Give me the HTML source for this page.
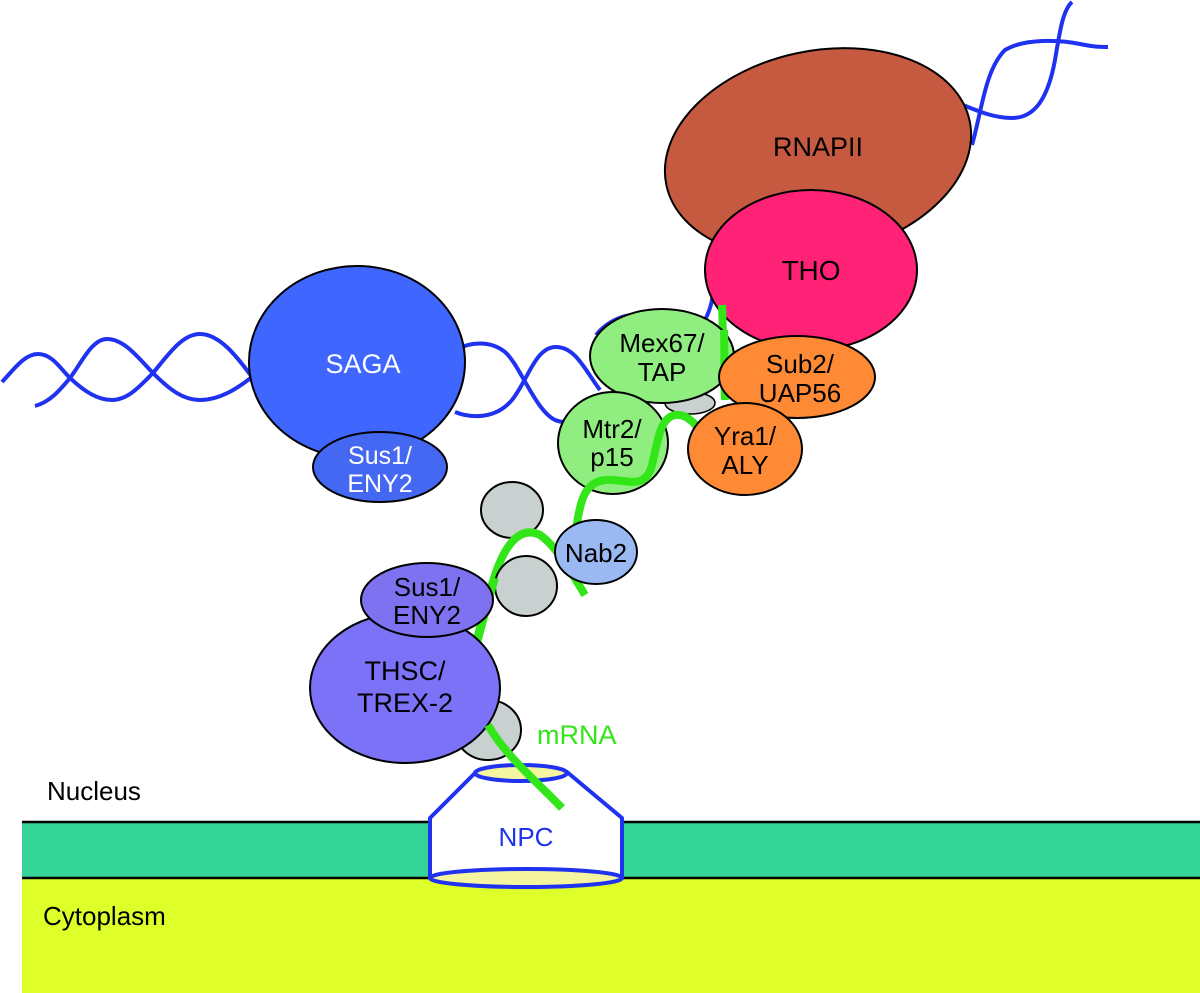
<!DOCTYPE html>
<html><head><meta charset="utf-8"><style>
html,body{margin:0;padding:0;background:#fff}
svg{display:block}
text{font-family:"Liberation Sans",sans-serif}
</style></head><body>
<svg width="1200" height="993" viewBox="0 0 1200 993" xmlns="http://www.w3.org/2000/svg">
<!-- membrane -->
<rect x="22" y="878" width="1178" height="115" fill="#dfff2a"/>
<rect x="22" y="822" width="1178" height="56" fill="#35d59a"/>
<line x1="22" y1="822" x2="1200" y2="822" stroke="#000" stroke-width="2.5"/>
<line x1="22" y1="878" x2="1200" y2="878" stroke="#000" stroke-width="2.5"/>
<text x="47" y="800" font-size="26">Nucleus</text>
<text x="43" y="925" font-size="26">Cytoplasm</text>

<!-- DNA left -->
<g fill="none" stroke="#1f32f0" stroke-width="4">
<path d="M2,382 C15,368 25,354 38,354 C52,354 60,368 70,378 C85,392 98,400 112,400 C128,400 140,386 153,373 C168,355 182,334 200,334 C220,334 238,358 252,377"/>
<path d="M35,406 C50,402 60,390 70,378 C82,362 92,339 107,339 C125,339 140,360 153,373 C168,388 182,400 200,400 C220,400 238,388 252,377"/>
</g>
<!-- DNA middle -->
<g fill="none" stroke="#1f32f0" stroke-width="4">
<path d="M455,350 C470,342 490,340 505,352 C520,365 535,410 555,420 C575,428 590,410 600,398"/>
<path d="M455,412 C470,418 495,420 512,400 C528,380 535,348 555,347 C575,346 585,370 600,390"/>
<path d="M596,335 C610,318 630,312 650,315 C670,318 690,325 705,320 C715,300 712,290 715,280"/>
</g>
<!-- DNA top right -->
<g fill="none" stroke="#1f32f0" stroke-width="4">
<path d="M963,105 C980,112 995,118 1012,118 C1035,118 1048,98 1055,60 C1060,30 1063,10 1072,2"/>
<path d="M972,145 C982,110 985,70 1005,50 C1025,38 1060,40 1080,44 C1095,47 1100,47 1108,47"/>
</g>

<!-- RNAPII + THO -->
<ellipse cx="818" cy="153" rx="155" ry="102" transform="rotate(-12 818 153)" fill="#c55a40" stroke="#000" stroke-width="2"/>
<text x="818" y="156" font-size="27" text-anchor="middle">RNAPII</text>
<ellipse cx="811" cy="270" rx="106" ry="80" fill="#ff2277" stroke="#000" stroke-width="2"/>
<text x="811" y="280" font-size="28" text-anchor="middle">THO</text>

<!-- SAGA -->
<ellipse cx="357" cy="362" rx="108" ry="96" fill="#3f66ff" stroke="#000" stroke-width="2"/>
<text x="363" y="373" font-size="27" text-anchor="middle" fill="#fff">SAGA</text>
<ellipse cx="380" cy="467" rx="67" ry="35" fill="#4468f2" stroke="#000" stroke-width="2"/>
<text x="380" y="464" font-size="25" text-anchor="middle" fill="#fff">Sus1/</text>
<text x="380" y="492" font-size="25" text-anchor="middle" fill="#fff">ENY2</text>

<!-- grey behind Mex67 -->
<ellipse cx="690" cy="403" rx="25" ry="11" fill="#c8d0d0" stroke="#000" stroke-width="1.5"/>
<path d="M722,305 L725,400" stroke="#33e61a" stroke-width="8" fill="none"/>

<!-- Mex67 -->
<ellipse cx="662" cy="356" rx="72" ry="47" fill="#90ee80" stroke="#000" stroke-width="2"/>
<text x="662" y="352" font-size="26" text-anchor="middle">Mex67/</text>
<text x="662" y="381" font-size="26" text-anchor="middle">TAP</text>
<path d="M724,330 L725,398" stroke="#33e61a" stroke-width="8" fill="none"/>
<!-- Sub2 -->
<ellipse cx="797" cy="377" rx="78" ry="41" fill="#ff8a35" stroke="#000" stroke-width="2"/>
<text x="800" y="373" font-size="26" text-anchor="middle">Sub2/</text>
<text x="800" y="402" font-size="26" text-anchor="middle">UAP56</text>
<!-- Mtr2 -->
<ellipse cx="613" cy="443" rx="55" ry="51" fill="#90ee80" stroke="#000" stroke-width="2"/>
<text x="612" y="438" font-size="26" text-anchor="middle">Mtr2/</text>
<text x="612" y="466" font-size="26" text-anchor="middle">p15</text>
<!-- mRNA upper segment -->
<path d="M576,530 C580,500 585,482 605,480 C625,478 645,492 652,465 C658,440 660,418 675,415 C690,413 700,430 712,448" stroke="#33e61a" stroke-width="8" fill="none"/>
<!-- Yra1 -->
<ellipse cx="745" cy="449" rx="57" ry="46" fill="#ff8a35" stroke="#000" stroke-width="2"/>
<text x="745" y="445" font-size="26" text-anchor="middle">Yra1/</text>
<text x="745" y="474" font-size="26" text-anchor="middle">ALY</text>

<!-- lower grey particles and mRNA -->
<ellipse cx="512" cy="510" rx="31" ry="28" fill="#c8d0d0" stroke="#000" stroke-width="2"/>
<path d="M585,595 C570,570 555,545 540,535 C520,525 505,545 495,575 C485,605 478,635 472,660" stroke="#33e61a" stroke-width="8" fill="none"/>
<ellipse cx="526" cy="586" rx="31" ry="30" fill="#c8d0d0" stroke="#000" stroke-width="2"/>
<path d="M495,578 C488,600 482,625 475,650" stroke="#33e61a" stroke-width="8" fill="none"/>
<ellipse cx="596" cy="552" rx="41" ry="32" fill="#9ab8f2" stroke="#000" stroke-width="2"/>
<text x="596" y="562" font-size="26" text-anchor="middle">Nab2</text>
<!-- behind THSC grey -->
<ellipse cx="488" cy="730" rx="33" ry="30" fill="#c8d0d0" stroke="#000" stroke-width="2"/>
<ellipse cx="405" cy="688" rx="95" ry="75" fill="#7b72f8" stroke="#000" stroke-width="2"/>
<text x="405" y="680" font-size="27" text-anchor="middle">THSC/</text>
<text x="405" y="712" font-size="27" text-anchor="middle">TREX-2</text>
<ellipse cx="427" cy="600" rx="66" ry="37" fill="#7f72f0" stroke="#000" stroke-width="2"/>
<text x="427" y="596" font-size="26" text-anchor="middle">Sus1/</text>
<text x="427" y="624" font-size="26" text-anchor="middle">ENY2</text>

<!-- NPC -->
<polygon points="476,772 430,818 430,878 622,878 622,818 567,772" fill="#fff" stroke="#1f32f0" stroke-width="4" stroke-linejoin="round"/>
<ellipse cx="521" cy="773" rx="46" ry="8" fill="#f5f5a0" stroke="#1f32f0" stroke-width="4"/>
<ellipse cx="526" cy="878" rx="96" ry="9" fill="#f5f5a0" stroke="#1f32f0" stroke-width="4"/>
<text x="526" y="846" font-size="26" text-anchor="middle" fill="#1f32f0">NPC</text>
<path d="M488,725 C505,755 535,780 562,808" stroke="#33e61a" stroke-width="8" fill="none"/>
<text x="537" y="744" font-size="27" fill="#33e61a">mRNA</text>
</svg>
</body></html>
